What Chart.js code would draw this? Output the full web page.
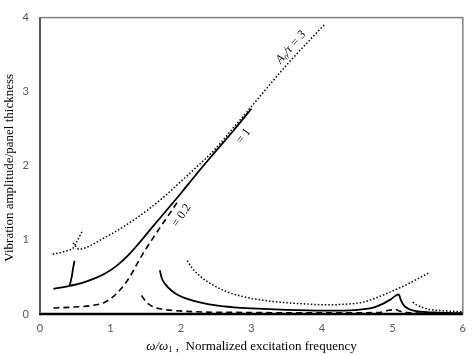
<!DOCTYPE html>
<html>
<head>
<meta charset="utf-8">
<script src="https://cdn.jsdelivr.net/npm/chart.js@4"></script>
<style>
html,body{margin:0;padding:0;background:#fff;}
canvas{display:block;}
</style>
</head>
<body>
<canvas id="c" width="474" height="355"></canvas>
<script>
// ---- data (x = ω/ω1, y = amplitude/thickness) ----
const xTicks = [0,1,2,3,4,5,6];
const yTicks = [0,1,2,3,4];

// A0/τ = 3 (dotted)
const dot3_x1 = [0.18,0.30,0.40,0.47,0.53,0.60];
const dot3_y1 = [0.81,0.83,0.86,0.89,0.99,1.12];
const dot3_x2 = [0.47,0.51,0.55,0.70,0.84,1.05,1.30,1.55,1.77,2.00,2.23,2.47,2.75,3.00,3.50,4.05];
const dot3_y2 = [0.96,0.91,0.875,0.915,0.99,1.10,1.25,1.42,1.59,1.79,1.99,2.21,2.52,2.80,3.36,3.92];
const dot3_x3 = [2.09,2.15,2.25,2.42,2.65,2.88,3.10,3.35,3.70,4.05,4.30,4.56,4.72,4.88,5.05,5.21,5.37,5.53];
const dot3_y3 = [0.72,0.63,0.53,0.41,0.30,0.235,0.195,0.165,0.14,0.125,0.13,0.155,0.20,0.26,0.33,0.40,0.48,0.56];
const dot3_x4 = [5.29,5.35,5.49,5.70,6.00];
const dot3_y4 = [0.16,0.12,0.07,0.045,0.03];

// A0/τ = 1 (solid)
const sol1_x1 = [0.19,0.42,0.60,0.80,0.93,1.10,1.25,1.40,1.60,1.77,2.00,2.23,2.47,2.75,3.00];
const sol1_y1 = [0.34,0.38,0.42,0.49,0.55,0.66,0.79,0.95,1.18,1.37,1.63,1.90,2.17,2.48,2.77];
const sol1_x2 = [0.42,0.45,0.47,0.49];
const sol1_y2 = [0.38,0.50,0.62,0.72];
const sol1_x3 = [1.70,1.73,1.78,1.86,1.95,2.10,2.30,2.50,2.75,3.00,3.50,4.00,4.40,4.60,4.74,4.87,4.98,5.09,5.12,5.16,5.22,5.30,5.60,6.00];
const sol1_y3 = [0.59,0.48,0.40,0.32,0.26,0.20,0.15,0.115,0.09,0.075,0.055,0.045,0.05,0.065,0.09,0.14,0.20,0.265,0.19,0.12,0.075,0.045,0.02,0.01];

// A0/τ = 0.2 (dashed)
const das02_x1 = [0.19,0.40,0.70,0.90,1.02,1.15,1.26,1.38,1.49,1.58,1.67,1.80,1.95];
const das02_y1 = [0.08,0.09,0.11,0.15,0.22,0.34,0.48,0.68,0.86,0.99,1.12,1.30,1.51];
const das02_x2 = [1.44,1.50,1.58,1.70,1.86,2.20,3.00,4.00,4.80,4.95,5.05,5.10,5.20,6.00];
const das02_y2 = [0.25,0.17,0.11,0.07,0.05,0.03,0.02,0.015,0.02,0.05,0.06,0.04,0.02,0.005];

// curve labels
const labelText = ["A\u2080/\u03c4 = 3", "= 1", "= 0.2"];
const labelX = [3.56, 2.89, 2.01];
const labelY = [3.60, 2.40, 1.33];
const labelAngle = [-49, -52, -56];

const pts = (xs, ys) => xs.map((x, i) => ({x: x, y: ys[i]}));

const DOT = [1.5, 2];
const DASH = [6, 4];
function ds(xs, ys, dash, w) {
  return {data: pts(xs, ys), borderColor: '#000', borderWidth: w, borderDash: dash,
    pointRadius: 0, fill: false, cubicInterpolationMode: 'monotone'};
}

const framePlugin = {
  id: 'frame',
  afterDraw(chart) {
    const {ctx, chartArea: a, scales} = chart;
    ctx.save();
    ctx.strokeStyle = '#808080';
    ctx.lineWidth = 1.5;
    ctx.strokeRect(a.left, a.top, a.right - a.left, a.bottom - a.top);
    ctx.strokeStyle = '#000';
    ctx.lineWidth = 2.5;
    ctx.beginPath(); ctx.moveTo(a.left - 1, a.bottom); ctx.lineTo(a.right, a.bottom); ctx.stroke();
    ctx.strokeStyle = '#444';
    ctx.lineWidth = 1.5;
    ctx.beginPath(); ctx.moveTo(a.left, a.top); ctx.lineTo(a.left, a.bottom); ctx.stroke();

    // curve labels
    ctx.fillStyle = '#000';
    ctx.textAlign = 'center';
    ctx.textBaseline = 'middle';
    for (let i = 0; i < labelText.length; i++) {
      const px = scales.x.getPixelForValue(labelX[i]);
      const py = scales.y.getPixelForValue(labelY[i]);
      ctx.save();
      ctx.translate(px, py);
      ctx.rotate(labelAngle[i] * Math.PI / 180);
      ctx.font = (i === 0 ? 'italic ' : '') + '12px "Liberation Serif"';
      ctx.fillText(labelText[i], 0, 0);
      ctx.restore();
    }

    // y title
    ctx.save();
    ctx.font = '13px "Liberation Serif"';
    ctx.translate(10, (a.top + a.bottom) / 2 + 2);
    ctx.rotate(-Math.PI / 2);
    ctx.fillText('Vibration amplitude/panel thickness', 0, 0);
    ctx.restore();

    // x title
    const parts = [
      {t: '\u03c9/\u03c9', f: 'italic 13px "Liberation Serif"', dy: 0},
      {t: '1', f: '9px "Liberation Serif"', dy: 3},
      {t: ' ,  Normalized excitation frequency', f: '13px "Liberation Serif"', dy: 0}
    ];
    let total = 0;
    parts.forEach(p => { ctx.font = p.f; p.w = ctx.measureText(p.t).width; total += p.w; });
    let x = (a.left + a.right) / 2 - total / 2;
    ctx.textAlign = 'left';
    ctx.textBaseline = 'middle';
    parts.forEach(p => { ctx.font = p.f; ctx.fillText(p.t, x, 347 + p.dy); x += p.w; });
    ctx.restore();
  }
};

new Chart(document.getElementById('c'), {
  type: 'line',
  data: {
    datasets: [
      ds(dot3_x1, dot3_y1, DOT, 1.5),
      ds(dot3_x2, dot3_y2, DOT, 1.5),
      ds(dot3_x3, dot3_y3, DOT, 1.5),
      ds(dot3_x4, dot3_y4, DOT, 1.5),
      ds(sol1_x1, sol1_y1, [], 1.8),
      ds(sol1_x2, sol1_y2, [], 1.8),
      ds(sol1_x3, sol1_y3, [], 1.8),
      ds(das02_x1, das02_y1, DASH, 1.6),
      ds(das02_x2, das02_y2, DASH, 1.6)
    ]
  },
  options: {
    responsive: false,
    animation: false,
    devicePixelRatio: 1,
    layout: {padding: {top: 4, right: 4, left: 0, bottom: 0}},
    plugins: {legend: {display: false}, tooltip: {enabled: false}},
    scales: {
      x: {
        type: 'linear', min: 0, max: 6,
        afterFit: s => { s.height = 41; },
        afterBuildTicks: s => { s.ticks = xTicks.map(v => ({value: v})); },
        grid: {display: false, drawTicks: false},
        border: {display: false},
        ticks: {padding: 8, color: '#595959', font: {family: 'Lato', size: 11}}
      },
      y: {
        type: 'linear', min: 0, max: 4,
        afterFit: s => { s.width = 40; },
        afterBuildTicks: s => { s.ticks = yTicks.map(v => ({value: v})); },
        grid: {display: false, drawTicks: false},
        border: {display: false},
        ticks: {padding: 11, color: '#595959', font: {family: 'Lato', size: 11}}
      }
    }
  },
  plugins: [framePlugin]
});
</script>
</body>
</html>
